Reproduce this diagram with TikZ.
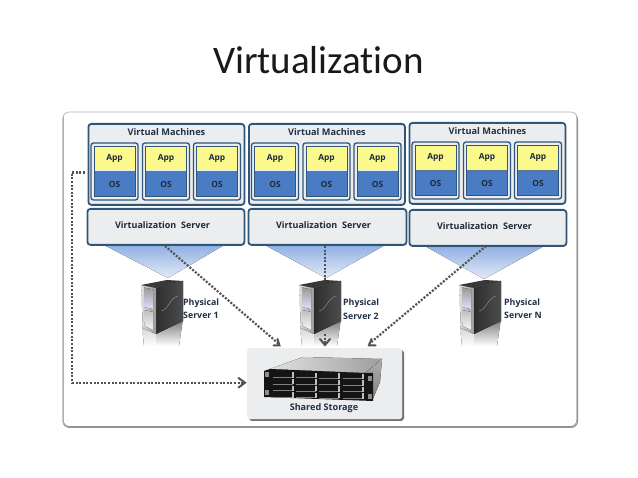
\documentclass[tikz,border=0pt]{standalone}
\usepackage{fontspec}
\setmainfont{Carlito}
\newfontfamily\titlefont[Ligatures=NoCommon]{Carlito}
\newfontfamily\lab{Open Sans}
\usetikzlibrary{arrows.meta,calc,fadings}
\definecolor{navy}{HTML}{2F5579}
\definecolor{panelg}{HTML}{ECEDEF}
\definecolor{appy}{HTML}{FBF98C}
\definecolor{osb}{HTML}{4A7CC4}
\definecolor{txt}{HTML}{1F2A3A}
\definecolor{conetop}{HTML}{8DAEE2}
\definecolor{conebot}{HTML}{E4EAF6}
\tikzset{
 px/.style={x=1pt,y=-1pt},
 frame/.style={draw=navy,line width=1.8pt,rounded corners=3pt,fill=panelg},
 cell/.style={draw=navy,line width=1.3pt,rounded corners=2.5pt,fill=panelg},
 lbl/.style={font=\lab\bfseries\fontsize{8.4}{9}\selectfont,text=txt,inner sep=0pt},
 vmtitle/.style={font=\lab\bfseries\fontsize{9.2}{10}\selectfont,text=txt!80!navy,inner sep=0pt},
 vstitle/.style={font=\lab\bfseries\fontsize{9}{10}\selectfont,text=txt},
 side/.style={font=\lab\bfseries\fontsize{8.8}{13.5}\selectfont,text=txt!85!navy,align=left,anchor=west,inner sep=0pt},
 dotted link/.style={draw=black!68,line width=2.2pt,dash pattern=on 2pt off 1.6pt},
 head/.style={draw=black!68,line width=2pt,line cap=round,line join=miter},
}
\newcommand{\vmcell}[2]{% x, y of cell
 \draw[cell] (#1,#2) rectangle ++(47,57);
 \fill[appy] (#1+3,#2+3.5) rectangle ++(41,24);
 \fill[osb] (#1+3,#2+28.5) rectangle ++(41,25);
 \draw[navy!80,line width=.7pt] (#1+3,#2+28) -- ++(41,0);
 \draw[navy,line width=1pt] (#1+3,#2+3.5) rectangle ++(41,50);
 \node[lbl] at (#1+23.5,#2+16) {App};
 \node[lbl] at (#1+23.5,#2+41) {OS};
}
\newcommand{\vmgroup}[3]{% x,y,letter
 \node[frame,minimum width=156pt,minimum height=81pt,anchor=north west,inner sep=0pt] (vm#3) at (#1,#2) {};
 \node[vmtitle] at (#1+79,#2+9.5) {Virtual Machines};
 \vmcell{#1+3.5}{#2+20}\vmcell{#1+55}{#2+20}\vmcell{#1+106}{#2+20}
}
\newcommand{\tower}[2]{% x,y top-left
 % reflection
 \fill[top color=black!18,bottom color=white] (#1+1,#2+46) -- (#1+15,#2+53) -- (#1+15,#2+66) -- (#1+3,#2+66) -- cycle;
 \fill[top color=black!55,bottom color=white] (#1+15,#2+50) -- (#1+42,#2+38) -- (#1+38,#2+66) -- (#1+15,#2+66) -- cycle;
 % dark side
 \fill[left color=black!82,right color=black!70] (#1+15,#2+8) -- (#1+42,#2+1) -- (#1+42,#2+41) -- (#1+15,#2+54) -- cycle;
 % front
 \fill[left color=black!12,right color=black!40] (#1+0,#2+5) -- (#1+15,#2+8) -- (#1+15,#2+54) -- (#1+2,#2+48) -- cycle;
 % top
 \fill[black!78] (#1+0,#2+5) -- (#1+26,#2+0) -- (#1+42,#2+1) -- (#1+15,#2+8) -- cycle;
 % bays
 \fill[top color=black!40,bottom color=blue!12!white] (#1+3,#2+7.5) -- (#1+12,#2+9.5) -- (#1+12,#2+29) -- (#1+3,#2+27) -- cycle;
 \fill[top color=black!25,bottom color=black!3] (#1+3,#2+30) -- (#1+12,#2+32) -- (#1+12,#2+50) -- (#1+4,#2+46) -- cycle;
 \draw[black!45,line width=.5pt] (#1+20,#2+31) .. controls (#1+27,#2+30) and (#1+29,#2+18) .. (#1+37,#2+16);
}
\begin{document}
\begin{tikzpicture}[px]
\useasboundingbox (0,0) rectangle (638,478);
\fill[white] (0,0) rectangle (638,478);
\node[font=\titlefont\fontsize{39}{42}\selectfont,text=black!90,inner sep=0pt] (title) at (318.5,60) {Virtualization};
% outer panel
\fill[black!50,rounded corners=7pt] (62.5,113) rectangle (578,428);
\fill[white,rounded corners=6pt] (63.5,112) rectangle (576.5,426);
\draw[black!28,line width=.7pt,rounded corners=6pt] (63,112) rectangle (577,427);
% cones
\foreach \xa/\xb/\xc/\ya in {102/168/226/244,263/326/387/244,423/484/546/245}{
 \fill[top color=conetop,bottom color=conebot] (\xa,\ya) -- (\xc,\ya) -- (\xb,\ya+34) -- cycle;
}
% virtual machines
\vmgroup{87.5}{123}{a}
\vmgroup{248}{123}{b}
\vmgroup{408.5}{122}{c}
% virtualization servers
\node[frame,vstitle,minimum width=157pt,minimum height=36pt,inner sep=0pt,anchor=north west] (vsa) at (86.5,208) {};
\node[vstitle,inner sep=0pt] at (162.5,225.5) {Virtualization\ \ Server};
\node[frame,minimum width=158pt,minimum height=36pt,inner sep=0pt,anchor=north west] (vsb) at (247.5,208) {};
\node[vstitle,inner sep=0pt] at (323.5,225) {Virtualization\ \ Server};
\node[frame,minimum width=157pt,minimum height=36pt,inner sep=0pt,anchor=north west] (vsc) at (408.5,209) {};
\node[vstitle,inner sep=0pt] at (484.5,226) {Virtualization\ \ Server};
% connectors
\coordinate (s1) at (165,246);
\coordinate (t1) at (279,344);
\coordinate (s2) at (325,246);
\coordinate (t2) at (325,344);
\coordinate (s3) at (486,246);
\coordinate (t3) at (369,344);
\coordinate (l0) at (85,172.5);
\coordinate (l1) at (72,172.5);
\coordinate (l2) at (72,382.7);
\coordinate (t4) at (244,382.7);
\draw[dotted link] (s1) -- (t1);
\draw[dotted link] (s2) -- (t2);
\draw[dotted link] (s3) -- (t3);
\draw[dotted link] (l0) -- (l1) -- (l2) -- (t4);
% towers
\tower{141}{280}
\tower{299}{280}
\tower{459}{280}
\draw[dotted link] (325,334) -- (t2);
\node[side] (pa) at (183,308.5) {Physical\\Server 1};
\node[side] (pb) at (343,309) {Physical\\Server 2};
\node[side] (pc) at (504,308.5) {Physical\\Server N};
% arrowheads
\draw[head] (273.5,345.5) -- (279.5,345.5) -- (277.5,339);
\draw[head] (320,339) -- (325,345) -- (330,339);
\draw[head] (375.5,345.5) -- (369,345.5) -- (371.5,339);
\draw[head] (238.5,378) -- (245,382.7) -- (238.5,387.5);
% storage panel
\fill[black!55,rounded corners=3pt] (249,350) rectangle (404,421);
\node[fill=panelg,rounded corners=3pt,minimum width=155pt,minimum height=71pt,inner sep=0pt,anchor=north west] (stor) at (247,348) {};
% storage device
\fill[left color=black!12,right color=black!38] (270,369) -- (303,357) -- (382,359) -- (365,373) -- cycle;
\fill[top color=black!32,bottom color=black!50] (365,373) -- (382,359) -- (380,382) -- (372,401) -- cycle;
\fill[black!92] (270,369) -- (365,373) -- (373,373) -- (373,401) -- (264,397) -- (264,371) -- cycle;
\foreach \c/\xc in {0/273,1/296,2/319,3/343}{
 \foreach \r in {0,1,2,3}{
  \draw[black!50,line width=.9pt] (\xc,{377.5+\r*6.6+\c*.35}) -- ++(20,0);
  \fill[black!25] (\xc+19,{372.5+\r*6.6+\c*.35}) rectangle ++(2,5.4);
 }
}
\fill[black!45] (265,372) rectangle (269,377);
\fill[black!45] (265,390) rectangle (269,395);
\fill[black!45] (368,376) rectangle (372,381);
\fill[black!45] (368,394) rectangle (372,399);
\node[lbl,font=\lab\bfseries\fontsize{9.1}{10}\selectfont,text=txt!80!navy] (stl) at (324,408) {Shared Storage};
\end{tikzpicture}
\end{document}
